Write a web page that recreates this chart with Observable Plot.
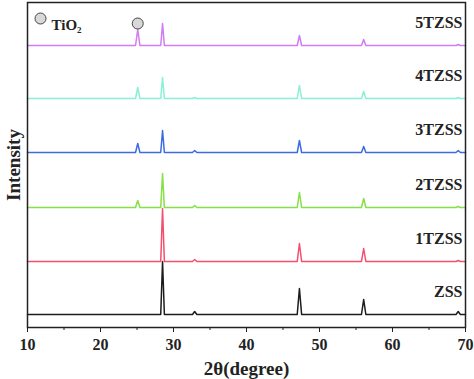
<!DOCTYPE html>
<html>
<head>
<meta charset="utf-8">
<script src="https://cdn.jsdelivr.net/npm/d3@7"></script>
<script src="https://cdn.jsdelivr.net/npm/@observablehq/plot@0.6"></script>
<style>
  html, body { margin: 0; padding: 0; background: #fff; }
</style>
</head>
<body>
<div id="chart"></div>
<script>
// Samples (bottom to top) and their colours
const series = ["ZSS", "1TZSS", "2TZSS", "3TZSS", "4TZSS", "5TZSS"];
const colors = ["#1c1c1c", "#f2506e", "#86e048", "#3c6ce2", "#88f0d4", "#d27cf2"];
// vertical stacking offset of each trace (a.u.)
const offsets = [0, 53, 107, 162, 216, 269];
// diffraction peak positions 2θ (degree)
const peakPositions = [25.1, 28.5, 32.9, 47.25, 56.05, 69.0];
// peak intensities (a.u.) per sample, same order as peakPositions
const intensityZSS   = [0, 53, 3, 26, 15, 3];
const intensity1TZSS = [0, 53, 2, 18, 13, 1];
const intensity2TZSS = [7, 34, 2, 15, 9, 1];
const intensity3TZSS = [9, 22, 2, 12, 6, 2];
const intensity4TZSS = [11, 21, 1, 13, 7, 1];
const intensity5TZSS = [16, 22, 0, 10, 6, 1];
const peakHalfWidth = [0.3, 0.25, 0.3, 0.3, 0.3, 0.3];
const tio2Peak = 25.1;
const xTicks = [10, 20, 30, 40, 50, 60, 70];
const xMinorTicks = [15, 25, 35, 45, 55, 65];

const intensities = [intensityZSS, intensity1TZSS, intensity2TZSS, intensity3TZSS, intensity4TZSS, intensity5TZSS];

const rows = [];
series.forEach((s, i) => {
  rows.push({series: s, x: 10, y: offsets[i]});
  peakPositions.forEach((p, j) => {
    const h = intensities[i][j];
    if (h > 0) {
      const w = peakHalfWidth[j];
      rows.push({series: s, x: p - w, y: offsets[i]});
      rows.push({series: s, x: p, y: offsets[i] + h});
      rows.push({series: s, x: p + w, y: offsets[i]});
    }
  });
  rows.push({series: s, x: 70, y: offsets[i]});
});

const labels = series.map((s, i) => ({series: s, y: offsets[i]}));
const tio2Marker = [{x: tio2Peak, y: offsets[5] + intensity5TZSS[0]}];

const font = "'Liberation Serif', 'Times New Roman', serif";

const chart = Plot.plot({
  width: 474,
  height: 379,
  marginLeft: 27,
  marginRight: 9,
  marginTop: 2,
  marginBottom: 52,
  style: {fontFamily: font, fontWeight: "bold", color: "#222", background: "#fff"},
  x: {domain: [10, 70]},
  y: {domain: [-13, 312]},
  color: {domain: series, range: colors},
  marks: [
    Plot.axisX({ticks: xTicks, tickSize: 5, tickPadding: 6, fontSize: 16, label: "2θ(degree)", labelAnchor: "center", labelArrow: "none", labelOffset: 47}),
    Plot.axisX({ticks: xMinorTicks, tickSize: 3, tickFormat: () => "", label: null}),
    Plot.axisY({ticks: [], label: "Intensity", labelAnchor: "center", labelArrow: "none", labelOffset: 21, fontSize: 19}),
    Plot.line(rows, {x: "x", y: "y", z: "series", stroke: "series", strokeWidth: 1.5}),
    Plot.text(labels, {y: "y", text: "series", frameAnchor: "right", textAnchor: "end", dx: -3, dy: -23, fontSize: 16}),
    Plot.dot(tio2Marker, {x: "x", y: "y", dy: -6, r: 5.5, fill: "#d8d8d8", stroke: "#444", strokeWidth: 1}),
    Plot.dot([0], {frameAnchor: "top-left", dx: 13, dy: 16, r: 5.5, fill: "#d8d8d8", stroke: "#444", strokeWidth: 1}),
    Plot.text(["TiO₂"], {frameAnchor: "top-left", dx: 24, dy: 17, textAnchor: "start", fontSize: 15}),
    Plot.frame({stroke: "#222", strokeWidth: 1.5})
  ]
});
chart.querySelectorAll("[aria-label='x-axis label'] text, [aria-label='y-axis label'] text").forEach(t => t.setAttribute("font-size", t.closest("[aria-label='x-axis label']") ? 19 : 19));
document.getElementById("chart").appendChild(chart);
</script>
</body>
</html>
